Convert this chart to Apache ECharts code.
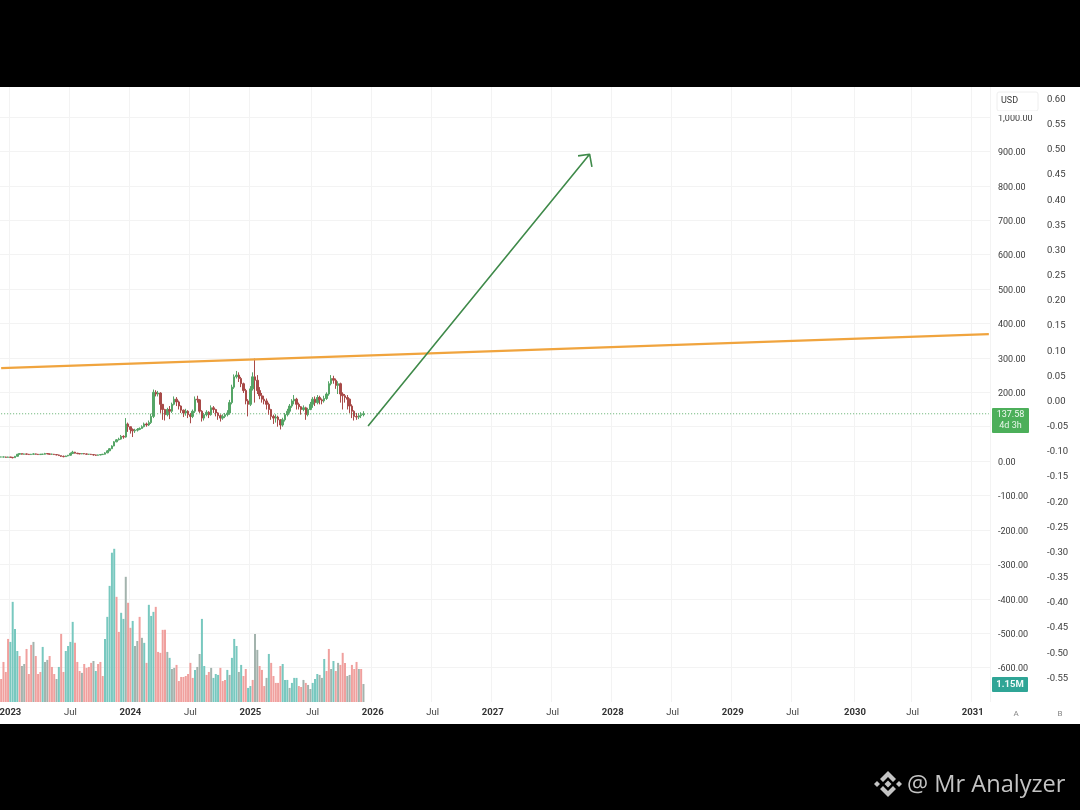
<!DOCTYPE html>
<html><head><meta charset="utf-8">
<style>
html,body{margin:0;padding:0;background:#000;width:1080px;height:810px;overflow:hidden}
#panel{position:absolute;left:0;top:87px;width:1080px;height:637px;background:#fff}
#chart{position:absolute;left:0;top:0;width:1080px;height:810px;filter:blur(0.75px)}
#mark{position:absolute;left:0;top:0;width:1080px;height:810px;pointer-events:none}
</style>
<script src="https://cdn.jsdelivr.net/npm/echarts@6/dist/echarts.min.js"></script>
</head><body><div id="panel"></div><div id="chart"></div><div id="mark"></div>
<script>
const weekCount = 429;
const tickIndex  = [4,30,56,82,108,135,161,187,213,239,265,291,317,343,370,395,421];
const tickLabels = ['2023','Jul','2024','Jul','2025','Jul','2026','Jul','2027','Jul','2028','Jul','2029','Jul','2030','Jul','2031'];

const closes = [12,12,11,12,11,10,14,20,22,20,
21,20,19,20,21,20,19,20,20,22,
21,20,20,19,18,16,14,13,15,17,
22,26,23,22,21,22,21,20,20,19,
18,17,18,19,20,24,30,36,44,56,
62,64,72,70,108,100,92,88,90,92,
95,100,108,105,112,130,200,195,198,165,
150,135,150,145,165,180,172,160,148,140,
145,135,130,145,180,178,145,125,135,142,
135,155,150,140,132,125,130,135,140,170,
215,245,250,240,225,205,175,165,210,245,
235,205,190,180,175,165,150,130,125,128,
120,105,120,135,145,160,175,180,165,158,
150,155,135,150,165,180,170,185,178,175,
182,195,225,240,235,220,225,195,190,185,
180,160,145,130,128,132,135,137.58];
const opens = [12,12,12,11,12,11,10,14,20,22,
20,21,20,19,20,21,20,19,20,20,
22,21,20,20,19,18,16,14,13,15,
17,22,26,23,22,21,22,21,20,20,
19,18,17,18,19,20,24,30,36,44,
56,62,64,72,70,108,100,92,88,90,
92,95,100,108,105,112,130,200,195,198,
165,150,135,150,145,165,180,172,160,148,
140,145,135,130,145,180,178,145,125,135,
142,135,155,150,140,132,125,130,135,140,
170,215,245,250,240,225,205,175,165,210,
245,235,205,190,180,175,165,150,130,125,
128,120,105,120,135,145,160,175,180,165,
158,150,155,135,150,165,180,170,185,178,
175,182,195,225,240,235,220,225,195,190,
185,180,160,145,130,128,132,135];
const highs = [13,13,13,13,12,12,15,21,23,22,
22,22,21,21,23,22,21,21,21,24,
23,22,22,21,20,19,16,16,16,18,
25,30,27,24,23,23,23,22,21,21,
20,19,19,20,21,26,32,38,46,58,
64,68,76,75,125,112,100,95,94,96,
98,104,112,112,118,138,208,206,204,200,
166,152,155,160,170,188,186,176,162,150,
152,148,140,150,188,190,180,148,140,148,
145,162,160,152,142,136,136,140,148,178,
222,252,262,258,245,228,210,180,218,258,
298,250,215,198,190,182,170,152,135,136,
132,122,126,140,152,166,180,192,184,170,
160,162,158,155,172,186,188,192,190,182,
190,200,232,250,248,240,232,228,200,195,
192,182,165,148,140,140,142,145];
const lows = [11,11,10,10,10,8,10,14,19,19,
19,19,18,18,19,19,18,18,19,19,
20,19,18,18,17,15,12,11,12,14,
16,21,22,20,20,20,20,19,18,18,
16,15,16,17,18,19,23,29,35,43,
55,60,62,65,68,85,80,70,82,86,
90,94,98,100,102,108,125,188,188,140,
120,118,130,122,140,162,160,150,140,128,
132,125,110,125,140,170,140,115,118,130,
125,132,140,130,120,115,120,125,130,135,
165,210,240,230,215,198,165,130,160,205,
170,195,180,170,165,150,135,120,108,112,
100,92,100,115,130,140,155,165,150,150,
135,145,120,130,148,155,160,165,165,165,
170,178,190,220,225,210,195,170,150,170,
150,140,125,118,120,122,125,130];
const volumesM = [1.47,2.56,1.92,4.03,3.84,6.40,4.67,3.26,2.94,2.30,
2.43,3.39,1.79,3.65,3.84,2.94,1.79,1.92,3.52,2.56,
2.69,2.94,2.24,1.79,1.47,2.24,4.35,1.92,3.26,3.58,
3.84,5.12,3.78,2.56,1.98,1.86,2.43,2.18,2.24,2.50,
2.62,1.98,2.43,2.56,1.66,4.03,5.44,7.42,9.54,9.79,
6.72,4.48,5.70,5.31,8.00,6.34,4.74,5.18,3.58,3.90,
5.44,4.10,3.78,2.50,6.21,5.50,5.76,6.08,3.20,3.14,
4.61,4.61,3.20,2.82,2.11,2.18,2.37,1.34,1.60,1.60,
1.66,1.79,2.50,1.54,2.05,2.24,3.07,5.31,2.30,1.73,
1.92,2.18,1.54,1.79,1.73,2.18,1.34,1.41,2.05,1.73,
2.82,4.03,3.58,1.92,2.37,1.66,2.11,0.90,1.02,1.41,
4.35,3.33,2.30,2.05,1.02,1.54,3.07,2.50,1.66,1.22,
1.22,2.30,2.43,1.41,1.41,0.90,1.22,1.54,1.54,1.02,
0.96,1.41,1.22,1.09,0.83,1.22,1.47,1.79,1.73,1.54,
2.75,1.98,3.39,2.11,2.62,1.98,2.50,2.37,3.14,2.50,
1.66,1.73,2.37,2.11,2.56,2.11,2.11,1.15];
const volumeTone = 'pppptttt'+'pgg'+'ppp'+'g'+'ppp'+'t'+'gg'+'ppp'+'g'+'t'+'pp'+'tttt'+'ppp'+'g'+'pppp'+'g'+'t'+'ppp'+
 'ttttt'+'pp'+'tt'+'g'+'pp'+'t'+'gg'+'p'+'g'+'t'+'p'+'ttt'+'ppppp'+'g'+'t'+'gg'+'pppppp'+
 'pp'+'t'+'gg'+'tt'+'pp'+'g'+'ttt'+'ppp'+'t'+'g'+'ttt'+'g'+'t'+'pp'+'tt'+'p'+'gg'+'ppp'+'g'+'t'+'ppppp'+
 'ttt'+'g'+'ttt'+'pp'+'g'+'p'+'gg'+'ttt'+'gg'+'t'+'pp'+'g'+'t'+'p'+'g'+'ppp'+'gg'+'ppp'+'g'+'p'+'g';

const resistanceLine = [[0,270],[428,369]];
const projectionArrow = [[159,102],[255.1,892],[250,887],[255.1,892],[255.6,855]];
const lastPrice = 137.58;
const lastVolume = '1.15M';
const priceCountdown = '4d 3h';

const weeks = Array.from({length:weekCount},(_,i)=>String(i));
const toneColor = {p:'#f0a09e',t:'#78c8bf',g:'#a3b3ad'};
const showTick = (i)=>tickIndex.includes(i);
const font = 'Roboto, sans-serif';
const gridColor = '#f3f3f3';

const candleData = closes.map((c,i)=>[opens[i],c,lows[i],highs[i]]);
const volumeData = volumesM.map((v,i)=>({value:v,itemStyle:{color:toneColor[volumeTone[i]]||toneColor.g}}));

const chart = echarts.init(document.getElementById('chart'),null,{renderer:'canvas'});
chart.setOption({
  animation:false,
  backgroundColor:'transparent',
  grid:{left:0,top:87,width:990,height:615,containLabel:false,outerBoundsMode:'none'},
  xAxis:{
    type:'category',data:weeks,boundaryGap:true,
    axisLine:{show:false},axisTick:{show:false},
    axisLabel:{
      interval:(i)=>showTick(i),margin:6,hideOverlap:false,
      fontFamily:font,fontSize:9.5,color:'#444',
      formatter:(v,i)=>{
        const k=tickIndex.indexOf(+v);
        if(k<0) return '';
        const t=tickLabels[k];
        return t==='Jul'?t:'{y|'+t+'}';
      },
      rich:{y:{fontFamily:font,fontSize:9.5,fontWeight:'bold',color:'#333'}}
    },
    splitLine:{show:true,interval:(i)=>showTick(i),lineStyle:{color:gridColor,width:1}}
  },
  yAxis:[
    {type:'value',position:'right',min:-700,max:1087.2,interval:100,
     axisLine:{show:false},axisTick:{show:false},
     splitLine:{show:true,showMinLine:false,showMaxLine:false,lineStyle:{color:gridColor,width:1}},
     axisLabel:{align:'left',verticalAlign:'top',lineHeight:3,margin:8,fontFamily:font,fontSize:9,color:'#3c3c3c',showMaxLabel:false,showMinLabel:false,
       formatter:(v)=>{
         if(v===-700||v%100!==0) return '';
         return v.toLocaleString('en-US',{minimumFractionDigits:2,maximumFractionDigits:2});
       }}},
    {type:'value',position:'right',offset:49,min:-0.6,max:0.6219,interval:0.05,
     axisLine:{show:false},axisTick:{show:false},splitLine:{show:false},
     axisLabel:{align:'left',verticalAlign:'top',lineHeight:3,margin:8,fontFamily:font,fontSize:9.5,color:'#3c3c3c',showMaxLabel:false,showMinLabel:false,
       formatter:(v)=>{
         const r=Math.round(v*100);
         if(r%5!==0||r>60||r<-55) return '';
         return v.toFixed(2);
       }}},
    {type:'value',show:false,min:0,max:39.3,splitLine:{show:false}}
  ],
  series:[
    {name:'Volume',type:'bar',yAxisIndex:2,data:volumeData,barWidth:2,silent:true,z:1},
    {name:'Last price',type:'line',yAxisIndex:0,data:[[0,lastPrice],[weekCount-1,lastPrice]],showSymbol:false,silent:true,z:2,
     lineStyle:{color:'#5fae6c',width:1,type:[1,2]}},
    {name:'Price',type:'candlestick',yAxisIndex:0,data:candleData,barWidth:2,silent:true,z:4,
     itemStyle:{color:'#55a566',color0:'#a84a48',borderColor:'#55a566',borderColor0:'#a84a48',borderWidth:1}},
    {name:'Resistance',type:'line',yAxisIndex:0,data:resistanceLine,showSymbol:false,silent:true,z:5,
     lineStyle:{color:'#f0a43e',width:2.2}},
    {name:'Projection',type:'line',yAxisIndex:0,data:projectionArrow,showSymbol:false,silent:true,z:6,
     lineStyle:{color:'#3f8a4a',width:1.6}}
  ],
  graphic:{elements:[
    {type:'rect',z:100,shape:{x:997,y:92,width:41,height:19,r:2},style:{fill:'#fff',stroke:'#eeeeee',lineWidth:1}},
    {type:'rect',z:100,shape:{x:997,y:111,width:41,height:4},style:{fill:'#fff'}},
    {type:'text',z:101,x:1001,y:101,style:{text:'USD',font:'9px '+font,fill:'#3c3c3c',verticalAlign:'middle'}},
    {type:'rect',z:100,shape:{x:992,y:408,width:37,height:25,r:1},style:{fill:'#4caf5a'}},
    {type:'text',z:101,x:1010.5,y:414.5,style:{text:String(lastPrice),font:'9px '+font,fill:'#f2faf3',align:'center',verticalAlign:'middle'}},
    {type:'text',z:101,x:1010.5,y:426,style:{text:priceCountdown,font:'9px '+font,fill:'#e8f6ea',align:'center',verticalAlign:'middle'}},
    {type:'rect',z:100,shape:{x:992,y:677,width:36,height:15,r:1},style:{fill:'#2fa596'}},
    {type:'text',z:101,x:1010,y:684.5,style:{text:lastVolume,font:'bold 9.5px '+font,fill:'#f0faf8',align:'center',verticalAlign:'middle'}},
    {type:'text',z:101,x:1016,y:714,style:{text:'A',font:'8px '+font,fill:'#888',align:'center',verticalAlign:'middle'}},
    {type:'text',z:101,x:1060,y:714,style:{text:'B',font:'8px '+font,fill:'#888',align:'center',verticalAlign:'middle'}}
  ]}
});

const mark = echarts.init(document.getElementById('mark'),null,{renderer:'canvas'});
mark.setOption({
  animation:false,
  backgroundColor:'transparent',
  graphic:{elements:[
    {type:'polygon',x:888,y:784,shape:{points:[[0,-13],[8,-5],[5,-2],[0,-7],[-5,-2],[-8,-5]]},style:{fill:'#c4c4c4'}},
    {type:'polygon',x:888,y:784,shape:{points:[[0,13],[8,5],[5,2],[0,7],[-5,2],[-8,5]]},style:{fill:'#c4c4c4'}},
    {type:'polygon',x:888,y:784,shape:{points:[[-14,0],[-11,-3],[-8,0],[-11,3]]},style:{fill:'#c4c4c4'}},
    {type:'polygon',x:888,y:784,shape:{points:[[14,0],[11,-3],[8,0],[11,3]]},style:{fill:'#c4c4c4'}},
    {type:'polygon',x:888,y:784,shape:{points:[[0,-3.5],[3.5,0],[0,3.5],[-3.5,0]]},style:{fill:'#c4c4c4'}},
    {type:'text',x:907,y:785,style:{text:'@ Mr Analyzer',font:'23.6px "Open Sans", sans-serif',fill:'#c4c4c4',verticalAlign:'middle'}}
  ]}
});
</script></body></html>
